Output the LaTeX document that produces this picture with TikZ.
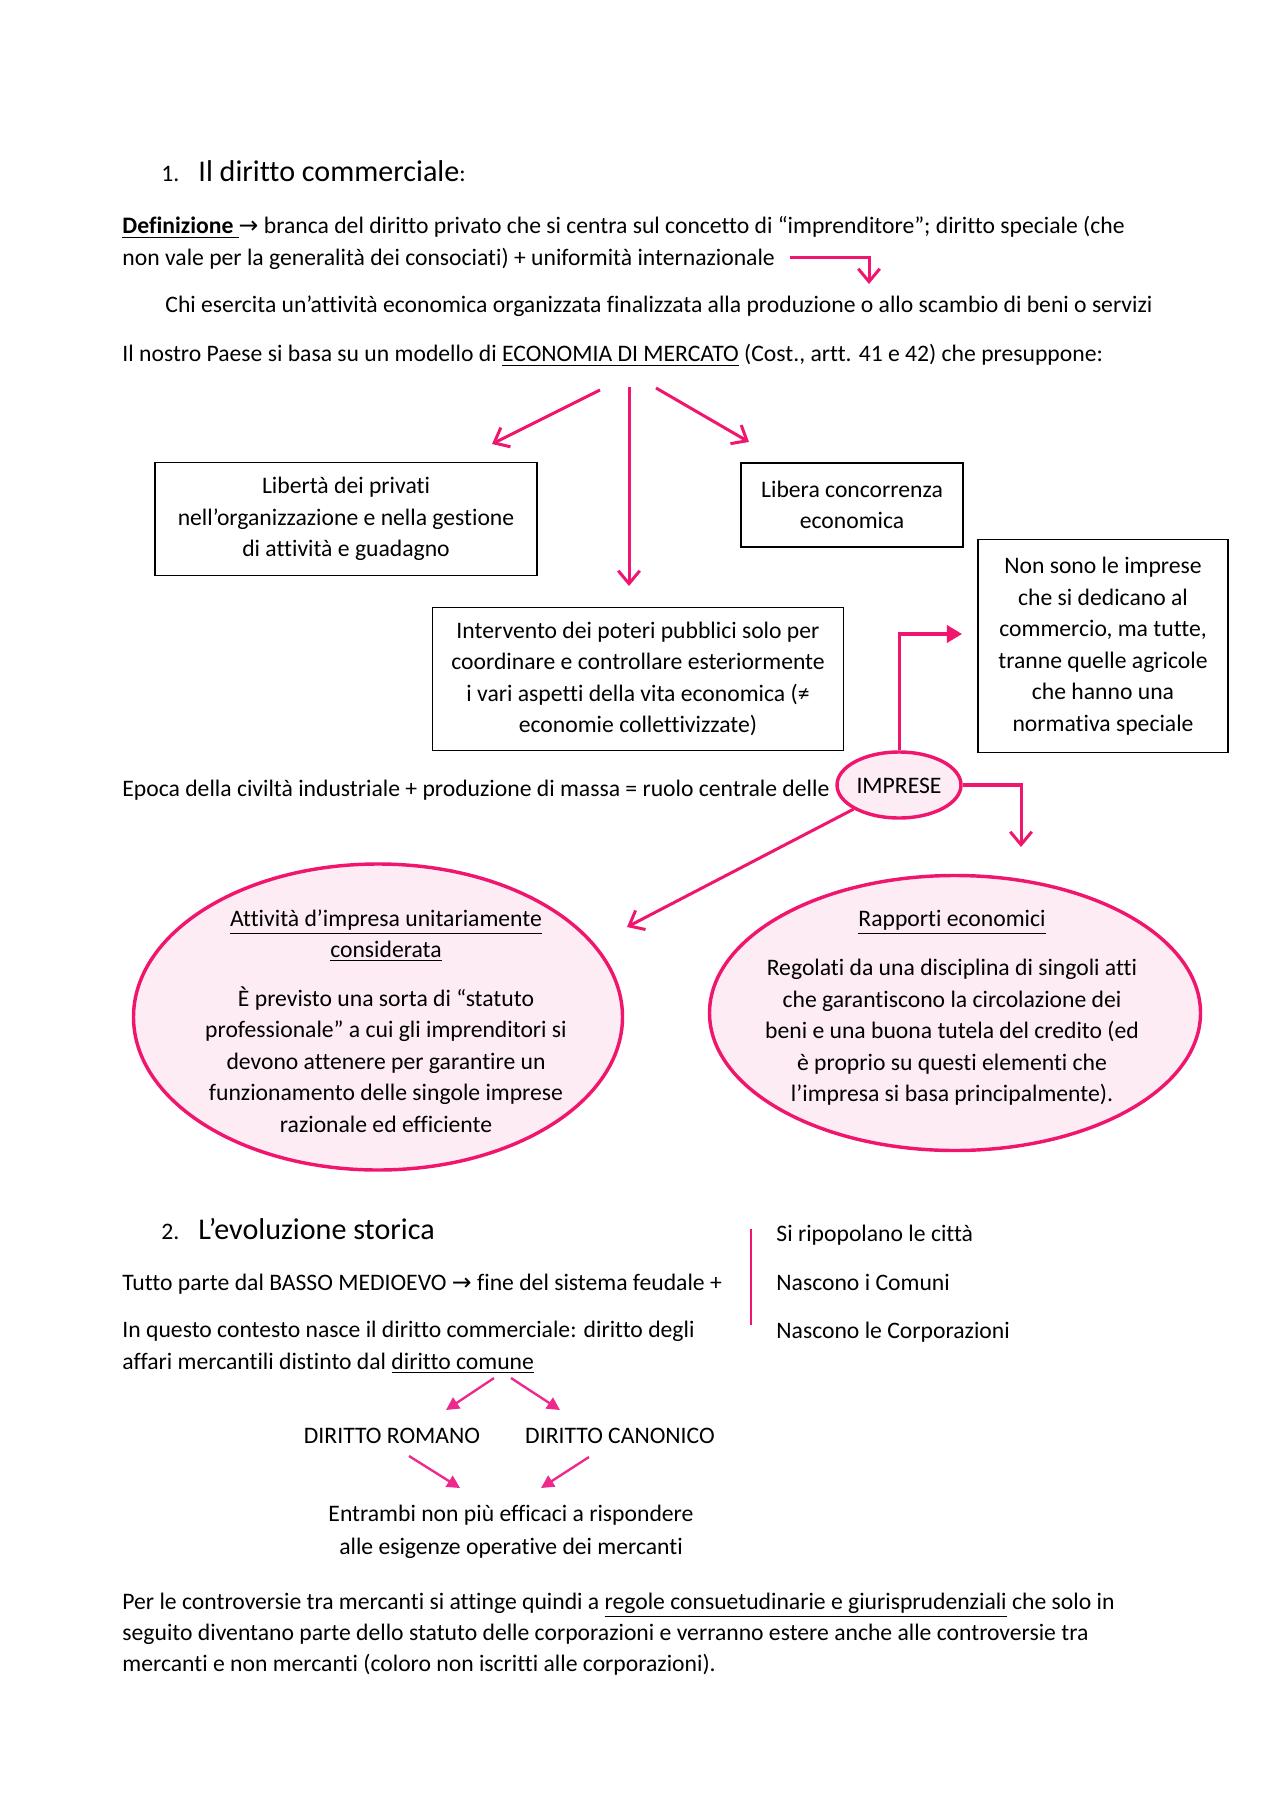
\documentclass[tikz,border=0pt]{standalone}
\usepackage{fontspec}
\setmainfont{Carlito}[Ligatures=NoCommon,RawFeature={-liga;-clig;-calt}]
\newfontfamily\symb{DejaVu Sans}
\usetikzlibrary{arrows.meta,shapes.geometric}
\definecolor{rosa}{RGB}{240,22,110}
\definecolor{rosetta}{RGB}{253,236,243}
\definecolor{fucsia}{RGB}{238,40,140}
\newcommand{\freccia}{{\symb →}}
\begin{document}
\begin{tikzpicture}[x=0.4651pt,y=-0.4651pt,
	font=\fontsize{11}{14.65}\selectfont,
	every node/.style={inner sep=0pt},
	riga/.style={anchor=base west},
	scatola/.style={draw,line width=0.9pt,align=center},
	bolla/.style={ellipse,draw=rosa,line width=1.6pt,fill=rosetta},
	pk/.style={draw=rosa,line width=1.4pt,-{Straight Barb[length=6pt,width=10pt]}},
	pkpiena/.style={draw=rosa,line width=1.4pt,-{Triangle[length=7pt,width=8pt]}},
	fx/.style={draw=fucsia,line width=1.1pt,-{Triangle[length=6pt,width=6pt]}}]
	\useasboundingbox (0,0) rectangle (1280,1811);
	
	% 1. il diritto commerciale
	\node[riga] (n1) at (161,182) {1.};
	\node[riga,font=\fontsize{14}{17}\selectfont] (tit1) at (198,182) {Il diritto commerciale\fontsize{11}{14}\selectfont:};
	\node[riga] (def1) at (122,234) {\underline{\textbf{Definizione}~}\freccia{} branca del diritto privato che si centra sul concetto di “imprenditore”; diritto speciale (che};
	\node[riga] (def2) at (122,266) {non vale per la generalità dei consociati) + uniformità internazionale};
	\coordinate (defa) at (790,258);
	\coordinate (defb) at (869,284);
	\draw[pk] (defa) -| (defb);
	\node[riga] (chi) at (165,313) {Chi esercita un’attività economica organizzata finalizzata alla produzione o allo scambio di beni o servizi};
	\node[riga] (paese) at (122,362) {Il nostro Paese si basa su un modello di \underline{ECONOMIA DI MERCATO} (Cost., artt. 41 e 42) che presuppone:};
	
	\coordinate (s1) at (600,390);
	\coordinate (e1) at (492,444);
	\coordinate (s2) at (629,387);
	\coordinate (e2) at (629,586);
	\coordinate (s3) at (656,388);
	\coordinate (e3) at (749,442);
	\draw[pk] (s1) -- (e1);
	\draw[pk] (s2) -- (e2);
	\draw[pk] (s3) -- (e3);
	
	\node[scatola,minimum width={382*0.4651pt},minimum height={113*0.4651pt}] (liberta) at (346,519) {Libertà dei privati\\nell’organizzazione e nella gestione\\di attività e guadagno};
	\node[scatola,minimum width={222*0.4651pt},minimum height={84*0.4651pt}] (concorrenza) at (852,505) {Libera concorrenza\\economica};
	\node[scatola,minimum width={250*0.4651pt},minimum height={213*0.4651pt}] (nonsono) at (1103,646) {Non sono le imprese\\che si dedicano al\\commercio, ma tutte,\\tranne quelle agricole\\che hanno una\\normativa speciale};
	\node[scatola,minimum width={411*0.4651pt},minimum height={143*0.4651pt}] (intervento) at (638,679) {Intervento dei poteri pubblici solo per\\coordinare e controllare esteriormente\\i vari aspetti della vita economica (≠\\economie collettivizzate)};
	
	\node[riga] (epoca) at (122,796) {Epoca della civiltà industriale + produzione di massa = ruolo centrale delle};
	\node[bolla,minimum width={124*0.4651pt},minimum height={66*0.4651pt},text height=8pt,text depth=0pt] (imp) at (899,785) {IMPRESE};
	\coordinate (c4) at (962,634);
	\coordinate (cgiu) at (1021,847);
	\coordinate (catt) at (627,927);
	\draw[pkpiena] (imp.north) |- (c4);
	\draw[pk] (imp.east) -| (cgiu);
	\draw[pk] (imp.208) -- (catt);
	
	\node[bolla,minimum width={489*0.4651pt},minimum height={306*0.4651pt}] (att) at (378,1017) {};
	\node[align=center] (atttxt) at (386,1021) {\underline{Attività d’impresa unitariamente}\\\underline{considerata}\\[8pt]È previsto una sorta di “statuto\\professionale” a cui gli imprenditori si\\devono attenere per garantire un\\funzionamento delle singole imprese\\razionale ed efficiente};
	\node[bolla,minimum width={491*0.4651pt},minimum height={275*0.4651pt}] (rapp) at (955,1013) {};
	\node[align=center] (rapptxt) at (952,1008) {\underline{Rapporti economici}\\[8pt]Regolati da una disciplina di singoli atti\\che garantiscono la circolazione dei\\beni e una buona tutela del credito (ed\\è proprio su questi elementi che\\l’impresa si basa principalmente).};
	
	% 2. l'evoluzione storica
	\node[riga] (n2) at (161,1239) {2.};
	\node[riga,font=\fontsize{14}{17}\selectfont] (tit2) at (198,1239) {L’evoluzione storica};
	\node[riga] (tutto) at (122,1290) {Tutto parte dal BASSO MEDIOEVO \freccia{} fine del sistema feudale +};
	\coordinate (va) at (751,1229);
	\coordinate (vb) at (751,1325);
	\draw[rosa,line width=1pt] (va) -- (vb);
	\node[riga] (citta) at (776,1241) {Si ripopolano le città};
	\node[riga] (comuni) at (776,1290) {Nascono i Comuni};
	\node[riga] (corp) at (776,1338) {Nascono le Corporazioni};
	\node[riga] (contesto) at (122,1337) {In questo contesto nasce il diritto commerciale: diritto degli};
	\node[riga] (affari) at (122,1369) {affari mercantili distinto dal \underline{diritto comune}};
	
	\node[anchor=base] (rom) at (392,1443) {DIRITTO ROMANO};
	\node[anchor=base] (can) at (620,1443) {DIRITTO CANONICO};
	\node[anchor=base] (entr1) at (511,1521) {Entrambi non più efficaci a rispondere};
	\node[anchor=base] (entr2) at (511,1554) {alle esigenze operative dei mercanti};
	\coordinate (a1) at (494,1378);
	\coordinate (b1) at (446,1410);
	\coordinate (a2) at (511,1378);
	\coordinate (b2) at (560,1410);
	\coordinate (a3) at (409,1456);
	\coordinate (b3) at (460,1488);
	\coordinate (a4) at (589,1457);
	\coordinate (b4) at (541,1488);
	\draw[fx] (a1) -- (b1);
	\draw[fx] (a2) -- (b2);
	\draw[fx] (a3) -- (b3);
	\draw[fx] (a4) -- (b4);
	
	\node[riga] (per1) at (122,1609) {Per le controversie tra mercanti si attinge quindi a \underline{regole consuetudinarie e giurisprudenziali} che solo in};
	\node[riga] (per2) at (122,1640) {seguito diventano parte dello statuto delle corporazioni e verranno estere anche alle controversie tra};
	\node[riga] (per3) at (122,1671) {mercanti e non mercanti (coloro non iscritti alle corporazioni).};
\end{tikzpicture}
\end{document}
